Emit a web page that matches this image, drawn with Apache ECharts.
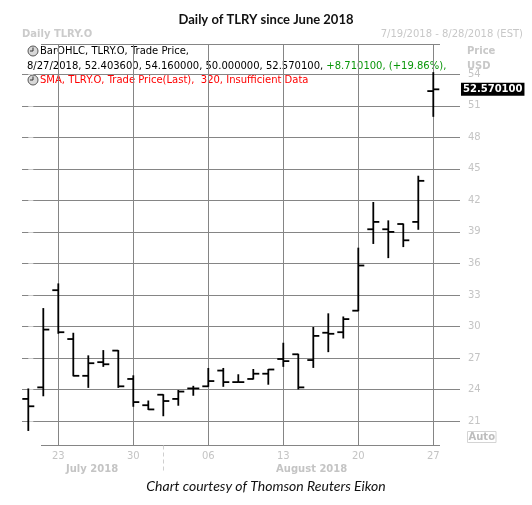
<!DOCTYPE html>
<html>
<head>
<meta charset="utf-8">
<script src="https://cdn.jsdelivr.net/npm/echarts@6/dist/echarts.min.js"></script>
<style>
  html, body { margin: 0; background: #fff; }
  #chart { width: 532px; height: 505px; }
</style>
</head>
<body>
<div id="chart"></div>
<script>
// trading days shown (7/19/2018 - 8/27/2018)
const dates = ['7/19', '7/20', '7/23', '7/24', '7/25', '7/26', '7/27', '7/30', '7/31',
  '8/1', '8/2', '8/3', '8/6', '8/7', '8/8', '8/9', '8/10', '8/13', '8/14', '8/15',
  '8/16', '8/17', '8/20', '8/21', '8/22', '8/23', '8/24', '8/27'];
const opens = [23.1, 24.2, 33.45, 28.8, 25.3, 26.6, 27.7, 25.0, 22.5, 23.5, 23.1, 24.1, 24.3, 25.8,
  24.7, 25.0, 25.5, 26.9, 27.35, 26.8, 29.4, 29.45, 31.5, 39.25, 39.25, 39.75, 39.95, 52.4036];
const highs = [24.05, 31.7, 34.05, 29.35, 27.2, 27.7, 27.7, 25.3, 22.9, 23.5, 23.9, 24.3, 26.0, 26.0,
  25.4, 25.9, 25.9, 28.4, 27.35, 29.9, 31.2, 30.9, 37.45, 41.8, 40.05, 39.75, 44.3, 54.16];
const lows = [20.1, 23.4, 29.35, 25.3, 24.2, 26.2, 24.2, 22.4, 22.1, 21.5, 22.5, 23.45, 24.3, 24.3,
  24.7, 25.0, 24.5, 26.2, 24.05, 26.1, 27.6, 28.9, 31.5, 37.9, 36.55, 37.6, 39.25, 50.0];
const closes = [22.4, 29.7, 29.45, 25.3, 26.5, 26.4, 24.3, 22.8, 22.1, 22.9, 23.8, 24.1, 24.8, 24.7,
  24.7, 25.5, 25.9, 26.7, 24.2, 29.1, 29.3, 30.7, 35.8, 39.95, 39.0, 38.2, 43.86, 52.5701];

// x axis tick labels (Mondays) and months
const weekStarts = ['7/23', '7/30', '8/6', '8/13', '8/20', '8/27'];
const weekLabels = ['23', '30', '06', '13', '20', '27'];
const monthLabels = ['July 2018', 'August 2018'];
const monthStart = '8/1';

const last = dates.length - 1;
const change = closes[last] - closes[last - 1];
const pct = change / closes[last - 1] * 100;

const xMin = -0.42, xMax = 28.78;
const frameLo = 18.7, frameHi = 56.85;
const mondayIdx = weekStarts.map(d => dates.indexOf(d));
const sepIdx = dates.indexOf(monthStart);
const monthMid = [(sepIdx - 0.5) / 2, (sepIdx + xMax) / 2];

const ohlc = dates.map((d, i) => [i, opens[i], closes[i], lows[i], highs[i]]);

const grey = '#c4c4c4';
const gridGrey = '#858585';
const tahoma = 'DejaVu Sans';

let myChart = echarts.init(document.getElementById('chart'));

let option = {
  animation: false,
  title: {
    text: 'Daily of TLRY since June 2018',
    left: 'center',
    top: 8,
    textStyle: { fontFamily: 'Lato', fontWeight: 'bold', fontSize: 13, color: '#111' }
  },
  grid: { left: 22, right: 72, top: 42.8, bottom: 52.5 },
  xAxis: [
    {
      type: 'value',
      min: xMin,
      max: xMax,
      axisLine: { show: false },
      axisTick: { show: false },
      splitLine: { show: false },
      axisLabel: {
        customValues: mondayIdx,
        margin: -1,
        color: grey,
        fontFamily: tahoma,
        fontSize: 10,
        formatter: v => weekLabels[mondayIdx.indexOf(v)]
      }
    },
    {
      type: 'value',
      min: xMin,
      max: xMax,
      position: 'bottom',
      offset: -7,
      axisLine: { show: false },
      splitLine: { show: false },
      axisTick: {
        show: true,
        customValues: [sepIdx],
        length: 28,
        lineStyle: { color: '#cfcfcf', type: [4, 3] }
      },
      axisLabel: {
        customValues: monthMid,
        margin: 19,
        color: grey,
        fontFamily: tahoma,
        fontWeight: 'bold',
        fontSize: 10,
        formatter: v => monthLabels[monthMid.indexOf(v)]
      }
    }
  ],
  yAxis: {
    type: 'value',
    position: 'right',
    min: 18,
    max: 57,
    interval: 3,
    axisLine: { show: false },
    axisTick: { show: true, length: 5, lineStyle: { color: '#cccccc' } },
    splitLine: { show: true, showMinLine: false, showMaxLine: false, lineStyle: { color: gridGrey } },
    axisLabel: {
      margin: 8,
      color: grey,
      fontFamily: tahoma,
      fontSize: 10,
      showMinLabel: false,
      showMaxLabel: false
    }
  },
  graphic: [
    // top / bottom frame of the plot
    { type: 'line', shape: { x1: 41, y1: 44.5, x2: 440, y2: 44.5 }, style: { stroke: gridGrey, lineWidth: 1 } },
    { type: 'line', shape: { x1: 41, y1: 445.5, x2: 440, y2: 445.5 }, style: { stroke: gridGrey, lineWidth: 1 } },
    { type: 'text', left: 22, top: 29, style: { text: 'Daily TLRY.O', fill: '#cbcbcb', font: 'bold 10px "DejaVu Sans"' } },
    { type: 'text', right: 9, top: 29, style: { text: '7/19/2018 - 8/28/2018 (EST)', fill: '#c8c8c8', font: '10px "DejaVu Sans"' } },
    { type: 'text', left: 467, top: 46, style: { text: 'Price', fill: '#c8c8c8', font: 'bold 10px "DejaVu Sans"' } },
    { type: 'text', left: 467, top: 61, style: { text: 'USD', fill: '#c8c8c8', font: 'bold 10px "DejaVu Sans"' } },
    {
      type: 'text', left: 467, top: 431,
      style: {
        text: 'Auto', fill: '#bdbdbd', font: 'bold 10px "DejaVu Sans"',
        borderColor: '#d4d4d4', borderWidth: 1, padding: [1, 1, 0, 1]
      }
    },
    // legend rows
    { type: 'circle', shape: { cx: 33, cy: 51, r: 5 }, style: { fill: '#d8d8d8', stroke: '#555', lineWidth: 1 } },
    { type: 'polyline', shape: { points: [[33, 47.5], [33, 51], [30, 51]] }, style: { stroke: '#333', lineWidth: 1, fill: null } },
    { type: 'text', left: 40, top: 46, style: { text: 'BarOHLC, TLRY.O, Trade Price,', fill: '#000', font: '10px "DejaVu Sans"' } },
    {
      type: 'text', left: 27, top: 61,
      style: {
        text: '{b|' + dates[last] + '/2018, ' + opens[last].toFixed(6) + ', ' + highs[last].toFixed(6) + ', ' +
          lows[last].toFixed(6) + ', ' + closes[last].toFixed(6) + ', }{g|+' + change.toFixed(6) +
          ', (+' + pct.toFixed(2) + '%),}',
        font: '10px "DejaVu Sans"',
        rich: {
          b: { fill: '#000', fontFamily: tahoma, fontSize: 10 },
          g: { fill: '#0a960a', fontFamily: tahoma, fontSize: 10 }
        }
      }
    },
    { type: 'circle', shape: { cx: 33, cy: 80, r: 5 }, style: { fill: '#d8d8d8', stroke: '#555', lineWidth: 1 } },
    { type: 'polyline', shape: { points: [[33, 76.5], [33, 80], [30, 80]] }, style: { stroke: '#333', lineWidth: 1, fill: null } },
    { type: 'text', left: 40, top: 75, style: { text: 'SMA, TLRY.O, Trade Price(Last),  320, Insufficient Data', fill: '#ff0000', font: '10px "DejaVu Sans"' } },
    {
      type: 'text', left: 'center', top: 479,
      style: { text: 'Chart courtesy of Thomson Reuters Eikon', fill: '#111', font: 'italic 14px Lato' }
    }
  ],
  series: [
    {
      name: 'TLRY.O',
      type: 'custom',
      data: ohlc,
      encode: { x: 0, y: [1, 2, 3, 4] },
      renderItem: function (params, api) {
        let x = api.value(0);
        let o = api.coord([x, api.value(1)]);
        let c = api.coord([x, api.value(2)]);
        let l = api.coord([x, api.value(3)]);
        let h = api.coord([x, api.value(4)]);
        let w = 6;
        let style = { stroke: '#000', lineWidth: 1.8 };
        return {
          type: 'group',
          children: [
            { type: 'line', shape: { x1: h[0], y1: h[1] - 0.5, x2: l[0], y2: l[1] + 0.5 }, style: style },
            { type: 'line', shape: { x1: o[0] - w, y1: o[1], x2: o[0], y2: o[1] }, style: style },
            { type: 'line', shape: { x1: c[0], y1: c[1], x2: c[0] + w, y2: c[1] }, style: style }
          ]
        };
      },
      z: 5
    },
    {
      name: 'guides',
      type: 'line',
      data: [],
      silent: true,
      markLine: {
        silent: true,
        symbol: ['none', 'none'],
        animation: false,
        label: { show: false },
        data: mondayIdx.map(i => [
          { coord: [i, frameLo], lineStyle: { color: gridGrey, width: 1, type: 'solid' } },
          { coord: [i, frameHi] }
        ])
      }
    },
    {
      name: 'last price',
      type: 'line',
      data: [],
      silent: true,
      z: 10,
      markLine: {
        silent: true,
        symbol: ['none', 'none'],
        animation: false,
        lineStyle: { color: 'rgba(0,0,0,0)', width: 1 },
        label: {
          show: true,
          position: 'end',
          distance: 1,
          formatter: closes[last].toFixed(6),
          color: '#fff',
          backgroundColor: '#000',
          fontFamily: tahoma,
          fontWeight: 'bold',
          fontSize: 10,
          padding: [2, 2, 1, 2]
        },
        data: [{ yAxis: closes[last] }]
      }
    }
  ]
};
myChart.setOption(option);
</script>
</body>
</html>
